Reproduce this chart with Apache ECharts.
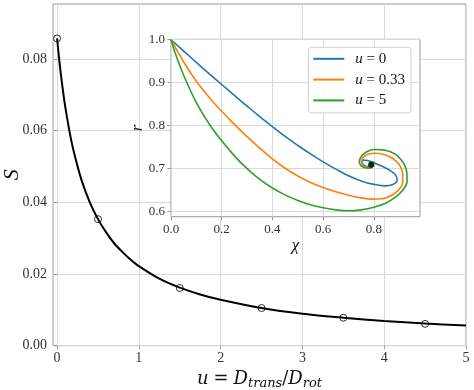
<!DOCTYPE html>
<html><head><meta charset="utf-8">
<script src="https://cdn.jsdelivr.net/npm/echarts@6/dist/echarts.min.js"></script>
<style>html,body{margin:0;padding:0;background:#fff}#c{width:474px;height:390px}</style>
</head><body><div id="c"></div>
<script>
// main curve S(u)
const uCurve = [0,0.025,0.05,0.075,0.1,0.15,0.2,0.3,0.4,0.5,0.6,0.7,0.8,0.9,1.0,1.25,1.5,1.75,2.0,2.5,3.0,3.5,4.0,4.5,5.0];
const sCurve = [0.0857,0.0800,0.0750,0.0706,0.0666,0.0600,0.0545,0.0461,0.0400,0.0353,0.0316,0.0285,0.0261,0.0240,0.0222,0.0187,0.0162,0.0143,0.0128,0.0105,0.0089,0.0078,0.0069,0.0062,0.0056];
// circle markers
const uMarks = [0,0.5,1.5,2.5,3.5,4.5];
const sMarks = [0.0857,0.0353,0.0161,0.0105,0.0078,0.0061];
// ticks
const uTicks = [0,1,2,3,4,5];
const sTicks = [0,0.02,0.04,0.06,0.08];
const chiTicks = [0,0.2,0.4,0.6,0.8];
const rTicks = [0.6,0.7,0.8,0.9,1.0];
// inset curves
const legendValues = ['0','0.33','5'];
const chiU0 = [0,0.05,0.1,0.15,0.2,0.25,0.3,0.35,0.4,0.45,0.5,0.55,0.6,0.65,0.7,0.75,0.8,0.845,0.875,0.892,0.886,0.866,0.835,0.8,0.775,0.759,0.753,0.759,0.774,0.789,0.796,0.793,0.785,0.786];
const rU0   = [1,0.9735,0.947,0.921,0.8955,0.870,0.845,0.8205,0.797,0.7745,0.7535,0.7335,0.715,0.698,0.6825,0.6705,0.6625,0.659,0.662,0.672,0.684,0.694,0.704,0.713,0.718,0.719,0.714,0.708,0.704,0.704,0.709,0.713,0.711,0.708];
const chiU033 = [0,0.05,0.1,0.15,0.2,0.25,0.3,0.35,0.4,0.45,0.5,0.55,0.6,0.65,0.7,0.75,0.79,0.83,0.868,0.898,0.914,0.913,0.898,0.872,0.84,0.804,0.777,0.759,0.751,0.755,0.767,0.781,0.793,0.798,0.793,0.784,0.785];
const rU033   = [1,0.948,0.903,0.866,0.833,0.8025,0.774,0.747,0.722,0.700,0.682,0.667,0.655,0.645,0.637,0.631,0.628,0.629,0.636,0.650,0.668,0.690,0.710,0.724,0.732,0.735,0.733,0.726,0.716,0.708,0.703,0.702,0.704,0.710,0.714,0.712,0.708];
const chiU5 = [0,0.02,0.05,0.1,0.15,0.2,0.25,0.3,0.35,0.4,0.45,0.5,0.55,0.6,0.65,0.7,0.75,0.8,0.848,0.886,0.915,0.931,0.930,0.917,0.895,0.868,0.836,0.805,0.78,0.761,0.747,0.743,0.749,0.764,0.779,0.793,0.800,0.795,0.785,0.784];
const rU5   = [1,0.963,0.917,0.853,0.804,0.764,0.729,0.699,0.674,0.654,0.638,0.625,0.615,0.608,0.603,0.601,0.603,0.609,0.619,0.633,0.650,0.670,0.691,0.712,0.728,0.738,0.743,0.744,0.741,0.734,0.724,0.714,0.706,0.701,0.700,0.702,0.710,0.715,0.714,0.709];
const fixedPoint = [0.789,0.708];

const zip = (a,b) => a.map((v,i)=>[v,b[i]]);
const serif = 'Liberation Serif';
const wserif = 'DejaVu Serif';
const tc = '#333';
const gridCol = '#dadada';
const frameCol = '#9a9a9a';

const chart = echarts.init(document.getElementById('c'), null, {renderer:'canvas'});
chart.setOption({
  animation:false,
  backgroundColor:'#fff',
  grid:[
    {left:53, right:8, top:4, bottom:44.3, outerBoundsMode:'none', containLabel:false, show:true, borderColor:frameCol, borderWidth:1, backgroundColor:'#fff', z:0},
    {left:171, right:54, top:39.3, bottom:173.3, outerBoundsMode:'none', containLabel:false, show:true, borderColor:frameCol, borderWidth:1, backgroundColor:'#fff', z:3}
  ],
  xAxis:[
    {type:'value', gridIndex:0, min:-0.05, max:5,
     axisLine:{show:false},
     axisTick:{show:true, length:3.5, lineStyle:{color:frameCol}, customValues:uTicks},
     axisLabel:{customValues:uTicks, margin:6, color:tc, fontFamily:serif, fontSize:14, formatter:v=>String(Math.round(v))},
     splitLine:{show:true, lineStyle:{color:gridCol, width:1}},
     name:'{i|u}{n|=}{i|D}{s|trans}{m|/}{i|D}{s|rot}', nameLocation:'middle', nameGap:21,
     nameTextStyle:{fontFamily:wserif, fontSize:18, color:'#111',
       rich:{i:{fontFamily:wserif,fontStyle:'italic',fontSize:18,color:'#111'},
             n:{fontFamily:wserif,fontSize:18,color:'#111',padding:[0,5,0,5]},
             m:{fontFamily:wserif,fontSize:18,color:'#111'},
             s:{fontFamily:wserif,fontStyle:'italic',fontSize:13,color:'#111',padding:[8,0,0,0]}}}
    },
    {type:'value', gridIndex:1, min:0, max:0.982, z:4,
     axisLine:{show:false},
     axisTick:{show:true, length:3.5, lineStyle:{color:frameCol}, customValues:chiTicks},
     axisLabel:{customValues:chiTicks, margin:6, color:tc, fontFamily:serif, fontSize:13, formatter:v=>v.toFixed(1)},
     splitLine:{show:true, lineStyle:{color:gridCol, width:1}},
     name:'χ', nameLocation:'middle', nameGap:19.5,
     nameTextStyle:{fontFamily:serif, fontStyle:'italic', fontSize:17, color:'#111'}
    }
  ],
  yAxis:[
    {type:'value', gridIndex:0, min:0, max:0.0953,
     axisLine:{show:false},
     axisTick:{show:true, length:3.5, lineStyle:{color:frameCol}, customValues:sTicks},
     axisLabel:{customValues:sTicks, margin:6, color:tc, fontFamily:serif, fontSize:14, formatter:v=>v.toFixed(2)},
     splitLine:{show:true, lineStyle:{color:gridCol, width:1}},
     name:'S', nameLocation:'middle', nameGap:30, nameRotate:90, nameMoveOverlap:false,
     nameTextStyle:{fontFamily:serif, fontStyle:'italic', fontSize:22, color:'#111'}
    },
    {type:'value', gridIndex:1, min:0.587, max:1.001, z:4,
     axisLine:{show:false},
     axisTick:{show:true, length:3.5, lineStyle:{color:frameCol}, customValues:rTicks},
     axisLabel:{customValues:rTicks, margin:6, color:tc, fontFamily:serif, fontSize:13, formatter:v=>v.toFixed(1)},
     splitLine:{show:true, lineStyle:{color:gridCol, width:1}},
     name:'r', nameLocation:'middle', nameGap:25, nameRotate:90, nameMoveOverlap:false,
     nameTextStyle:{fontFamily:serif, fontStyle:'italic', fontSize:17, color:'#111'}
    }
  ],
  legend:{
    data: legendValues.map(v=>'u = '+v),
    orient:'vertical', left:308.3, top:47.3, padding:[3,6,4,5], itemGap:3.8,
    itemWidth:31, itemHeight:2, icon:'rect', z:10,
    backgroundColor:'rgba(255,255,255,0.9)', borderColor:'#d0d0d0', borderWidth:1, borderRadius:3,
    formatter: name => '{i|u}{n| = '+name.slice(4)+'}',
    textStyle:{fontFamily:serif, fontSize:15, color:'#111', lineHeight:17,
      rich:{i:{fontFamily:serif,fontStyle:'italic',fontSize:15,color:'#111',padding:[0,0,0,6]},
            n:{fontFamily:serif,fontSize:15,color:'#111'}}}
  },
  series:[
    {type:'line', xAxisIndex:0, yAxisIndex:0, data:zip(uCurve,sCurve), smooth:0.3, showSymbol:false,
     lineStyle:{color:'#000', width:2}, z:2},
    {type:'scatter', xAxisIndex:0, yAxisIndex:0, data:zip(uMarks,sMarks), symbol:'circle', symbolSize:7,
     itemStyle:{color:'rgba(0,0,0,0)', borderColor:'#000', borderWidth:1}, z:3},
    {name:'u = 0', type:'line', xAxisIndex:1, yAxisIndex:1, data:zip(chiU0,rU0), smooth:0.4, showSymbol:false,
     lineStyle:{color:'#1f77b4', width:1.6}, itemStyle:{color:'#1f77b4'}, z:5},
    {name:'u = 0.33', type:'line', xAxisIndex:1, yAxisIndex:1, data:zip(chiU033,rU033), smooth:0.4, showSymbol:false,
     lineStyle:{color:'#ff7f0e', width:1.6}, itemStyle:{color:'#ff7f0e'}, z:5},
    {name:'u = 5', type:'line', xAxisIndex:1, yAxisIndex:1, data:zip(chiU5,rU5), smooth:0.4, showSymbol:false,
     lineStyle:{color:'#2ca02c', width:1.6}, itemStyle:{color:'#2ca02c'}, z:5},
    {type:'scatter', xAxisIndex:1, yAxisIndex:1, data:[fixedPoint], symbolSize:6,
     itemStyle:{color:'#000'}, z:6}
  ]
});
</script></body></html>
